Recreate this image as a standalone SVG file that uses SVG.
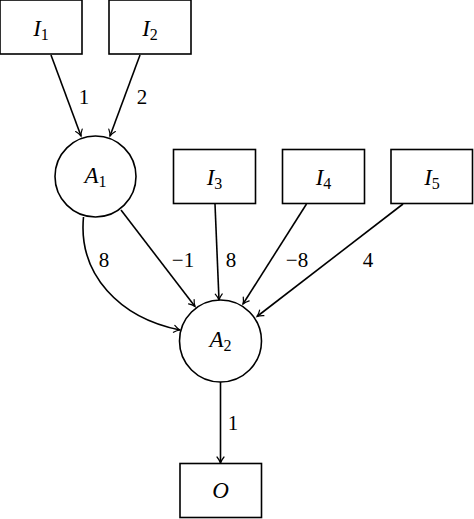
<svg xmlns="http://www.w3.org/2000/svg" width="474" height="519" viewBox="0 0 474 519">
<defs>
<style>
.box{fill:#fff;stroke:#000;stroke-width:1.6}
.circ{fill:#fff;stroke:#000;stroke-width:1.6}
.edge{fill:none;stroke:#000;stroke-width:1.6;marker-end:url(#arr)}
text{font-family:"Liberation Serif","DejaVu Serif",serif;text-anchor:middle}
.lbl{font-style:italic;font-size:23px}
.sub{font-style:normal;font-size:16px}
.num{font-size:21px}
</style>
<marker id="arr" markerWidth="10" markerHeight="10" refX="8" refY="5" orient="auto" markerUnits="userSpaceOnUse">
<path d="M2,1.5 Q5,4 8,5 Q5,6 2,8.5" fill="none" stroke="#000" stroke-width="1.2" stroke-linecap="round"/>
</marker>
</defs>
<rect width="474" height="519" fill="#fff"/>
<g id="connectors">
<line class="edge" x1="51" y1="55" x2="81" y2="136"/>
<line class="edge" x1="140" y1="55" x2="110" y2="136"/>
<path class="edge" d="M83.5,217 C78,275 120,318 180,330"/>
<line class="edge" x1="121" y1="210" x2="195" y2="306.5"/>
<line class="edge" x1="215" y1="204" x2="219" y2="300"/>
<line class="edge" x1="306.5" y1="204" x2="243" y2="304"/>
<line class="edge" x1="403" y1="204" x2="257" y2="316.5"/>
<line class="edge" x1="220.5" y1="382" x2="220.5" y2="463"/>
<text class="num" x="84" y="104">1</text>
<text class="num" x="142" y="104">2</text>
<text class="num" x="104" y="267">8</text>
<text class="num" x="183" y="267">−1</text>
<text class="num" x="231" y="267">8</text>
<text class="num" x="297" y="267">−8</text>
<text class="num" x="368" y="267">4</text>
<text class="num" x="233" y="430">1</text>
</g>
<g id="I1"><rect class="box" x="0" y="0" width="82" height="54"/><text class="lbl" x="41" y="36">I<tspan class="sub" dy="4">1</tspan></text></g>
<g id="I2"><rect class="box" x="109" y="0" width="82" height="54"/><text class="lbl" x="150" y="36">I<tspan class="sub" dy="4">2</tspan></text></g>
<g id="A1"><circle class="circ" cx="95.5" cy="176.5" r="40.5"/><text class="lbl" x="95.5" y="183">A<tspan class="sub" dy="4">1</tspan></text></g>
<g id="I3"><rect class="box" x="173.5" y="149.5" width="82" height="54"/><text class="lbl" x="214.5" y="185">I<tspan class="sub" dy="4">3</tspan></text></g>
<g id="I4"><rect class="box" x="282.5" y="149.5" width="82" height="54"/><text class="lbl" x="323.5" y="185">I<tspan class="sub" dy="4">4</tspan></text></g>
<g id="I5"><rect class="box" x="391" y="149.5" width="81.5" height="54"/><text class="lbl" x="432" y="185">I<tspan class="sub" dy="4">5</tspan></text></g>
<g id="A2"><circle class="circ" cx="220.5" cy="341" r="41"/><text class="lbl" x="220.5" y="347">A<tspan class="sub" dy="4">2</tspan></text></g>
<g id="O"><rect class="box" x="180" y="463.5" width="81.5" height="54"/><text class="lbl" x="220.5" y="498">O</text></g>
</svg>
